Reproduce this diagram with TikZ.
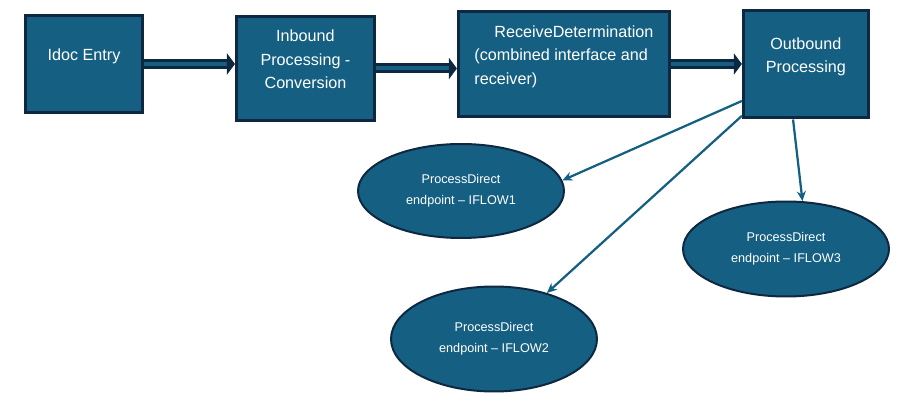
\documentclass[tikz,border=0pt]{standalone}
\usepackage{fontspec}
\setmainfont{Liberation Sans}
\usetikzlibrary{shapes.geometric, arrows.meta, positioning}

\definecolor{tealfill}{HTML}{156082}
\definecolor{darkedge}{HTML}{0E2841}

\begin{document}
\begin{tikzpicture}[
        x=0.02cm, y=-0.02cm,
        box/.style={rectangle, draw=darkedge, fill=tealfill, line width=0.06cm, text=white, align=center, font=\fontsize{9.2}{13.4}\selectfont, text depth=0.36cm},
        endpoint/.style={ellipse, draw=darkedge, fill=tealfill, line width=0.04cm, text=white, align=center, inner sep=0pt, minimum width=4.12cm, font=\fontsize{7.2}{11.7}\selectfont},
        blockarrow/.style={draw=darkedge, double=tealfill, line width=0.06cm, double distance=0.08cm, -{Triangle[length=0.16cm,width=0.42cm]}},
        link/.style={draw=tealfill, line width=0.045cm, -{Stealth[length=0.2cm,width=0.18cm]}}
    ]
    \useasboundingbox (0,0) rectangle (919,418);

    \node (idoc) [box, minimum width=2.34cm, minimum height=1.96cm] at (84,64) {Idoc Entry};
    \node (inbound) [box, minimum width=2.76cm, minimum height=2.08cm, right=1.82cm of idoc, yshift=-0.09cm] {Inbound\\Processing -\\Conversion};
    \node (rcv) [box, align=left, minimum width=4.22cm, minimum height=2.1cm, right=1.62cm of inbound, yshift=0.09cm] {\hspace*{0.4cm}ReceiveDetermination\\(combined interface and\\receiver)};
    \node (outbound) [box, minimum width=2.5cm, minimum height=2.16cm, right=1.42cm of rcv] {Outbound\\Processing};

    \node (pd1) [endpoint, minimum height=1.88cm] at (461,191) {ProcessDirect\\endpoint -- IFLOW1};
    \node (pd2) [endpoint, minimum height=2.1cm] at (494,339) {ProcessDirect\\endpoint -- IFLOW2};
    \node (pd3) [endpoint, minimum height=1.9cm] at (786,249) {ProcessDirect\\endpoint -- IFLOW3};

    \draw[blockarrow] (idoc.east) -- (idoc.east -| inbound.west);
    \draw[blockarrow] (inbound.east) -- (inbound.east -| rcv.west);
    \draw[blockarrow] (rcv.east) -- (rcv.east -| outbound.west);

    \draw[link] (outbound.210) -- (pd1.6);
    \draw[link] (outbound.219) -- (pd2.41);
    \draw[link] (outbound.257) -- (pd3.71);

\end{tikzpicture}
\end{document}
